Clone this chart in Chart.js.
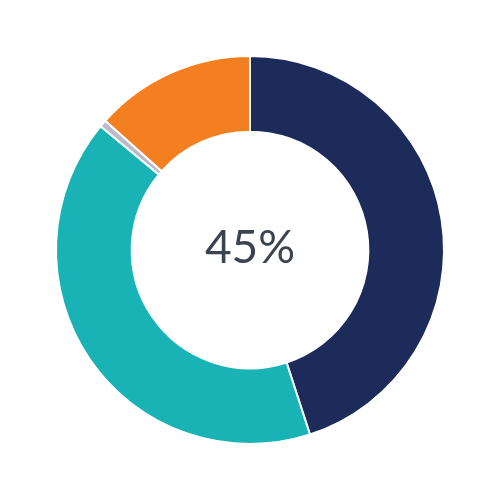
<!DOCTYPE html>
<html>
<head>
<meta charset="utf-8">
<script src="https://cdn.jsdelivr.net/npm/chart.js@4/dist/chart.umd.min.js"></script>
<style>
  html, body { margin: 0; padding: 0; background: #fff; }
  #wrap { width: 500px; height: 500px; }
</style>
</head>
<body>
<div id="wrap"><canvas id="donut"></canvas></div>
<script>
  var labels = ['Segment A', 'Segment B', 'Segment C', 'Segment D'];
  var values = [45, 41, 0.6, 13.4];
  var colors = ['#1c2b5a', '#1ab3b5', '#b8bbcc', '#f47f20'];
  var centerLabel = '45%';

  // draws the big percentage in the hole
  var centerText = {
    id: 'centerText',
    afterDraw: function (chart) {
      var meta = chart.getDatasetMeta(0).data[0];
      if (!meta) return;
      var ctx = chart.ctx;
      ctx.save();
      ctx.font = '400 46px Lato, "Open Sans", sans-serif';
      ctx.fillStyle = '#3b4450';
      ctx.textAlign = 'center';
      ctx.textBaseline = 'middle';
      ctx.fillText(centerLabel, meta.x, meta.y - 2);
      ctx.restore();
    }
  };

  new Chart(document.getElementById('donut'), {
    type: 'doughnut',
    data: {
      labels: labels,
      datasets: [{
        data: values,
        backgroundColor: colors,
        borderColor: '#ffffff',
        borderWidth: 2
      }]
    },
    options: {
      responsive: true,
      maintainAspectRatio: false,
      animation: false,
      cutout: '61%',
      layout: { padding: 55 },
      plugins: {
        legend: { display: false },
        tooltip: { enabled: false }
      }
    },
    plugins: [centerText]
  });
</script>
</body>
</html>
